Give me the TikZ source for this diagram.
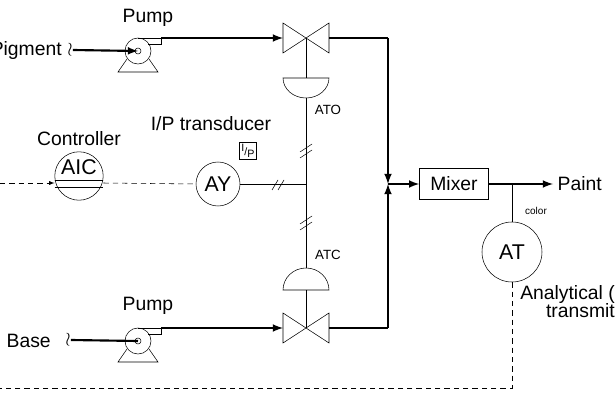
\documentclass[tikz,border=0pt]{standalone}
\usepackage{fontspec}
\setmainfont{Liberation Sans}
\usetikzlibrary{arrows}
\usetikzlibrary{calc}
\usetikzlibrary{positioning}
\tikzset{>=latex}

\begin{document}
\begin{tikzpicture}[x=0.75pt,y=-0.75pt,
  pipe/.style={line width=1.6pt},
  sig/.style={thin,dashed,dash pattern=on 4pt off 3pt},
  inst/.style={draw,circle,minimum size=44*0.75pt,inner sep=0pt,font=\fontsize{16}{18}\selectfont},
  lbl/.style={font=\fontsize{14.5}{14}\selectfont},
  small/.style={font=\fontsize{10}{10}\selectfont}]
\useasboundingbox (0,0) rectangle (615,410);

% pumps
\foreach \n/\y in {top/51, bot/341} {
  \node (pump\n) [draw,circle,minimum size=26*0.75pt,inner sep=0pt] at (138,\y) {};
  \draw (pump\n.center) circle (3);
  \draw (127,{\y+8}) -- (118,{\y+21}) -- (158,{\y+21}) -- (149,{\y+8});
  \draw (138,{\y-13}) -- (161,{\y-13}) -- (161,{\y-7}) -- (148,{\y-7});
}
\node [lbl] at (148,18) {Pump};
\node [lbl] at (148,306) {Pump};
\node [lbl,anchor=east,inner sep=0pt] at (62,51) {Pigment};
\node [lbl,anchor=east,inner sep=0pt] at (51,341) {Base};
\node (pig) [lbl,inner sep=0pt] at (70,50) {$\wr$};
\node (base) [lbl,inner sep=0pt] at (68,340) {$\wr$};
\draw [pipe,->] (pig.east) -- (pumptop.center);
\draw [pipe] (base.east) -- (pumpbot.center);

% valves
\foreach \n/\y in {top/38, bot/328} {
  \coordinate (valve\n) at (306,\y);
  \draw (283,{\y-15}) -- (329,{\y+15}) -- (329,{\y-15}) -- (283,{\y+15}) -- cycle;
}
\draw [pipe,->] (161,38) -- (283,38);
\draw [pipe,->] (161,328) -- (283,328);

% actuators
\draw (283,78) arc (180:360:23 and -20) -- cycle;
\draw (283,290) arc (180:0:23 and -22) -- cycle;
\draw (valvetop) -- (306,78);
\draw (valvebot) -- (306,290);
\node [small] at (328,110) {ATO};
\node [small] at (328,255) {ATC};

% signal from transducer
\coordinate (tee) at (306,184);
\draw (306,98) -- (306,268);
\node (AY) [inst] at (218,184) {AY};
\draw (AY.east) -- (tee);
\foreach \p in {(306,148), (306,220)}
  \draw \p ++(-6,4) -- ++(12,-8) \p ++(-6,10) -- ++(12,-8);
\draw (272,190) -- (278,180) (278,190) -- (284,180);
\node [draw,inner sep=1.5pt,font=\fontsize{8}{9}\selectfont] at (248,151) {\raisebox{0.6ex}{I}/\raisebox{-0.4ex}{P}};
\node [lbl] at (211,124) {I/P transducer};

% controller
\node (AIC) [inst] at (79,176) {\raisebox{1.6ex}{AIC}};
\draw (AIC.west |- 0,180) -- (AIC.east |- 0,180) (AIC.west |- 0,187) -- (AIC.east |- 0,187);
\node [lbl] at (79,139) {Controller};
\coordinate (leftin) at (0,183);
\draw [sig,->] (leftin) -- (AIC.west |- 0,183);
\draw [sig] (AIC.east |- 0,183) -- (AY.west);

% mixing
\coordinate (join) at (388,184);
\draw [pipe] (329,38) -- (388,38);
\draw [pipe,->] (388,38) -- (join);
\draw [pipe] (329,328) -- (388,328);
\draw [pipe,->] (388,328) -- (join);
\node (mixer) [draw,lbl,minimum width=69*0.75pt,minimum height=31*0.75pt] at (454,184) {Mixer};
\draw [pipe,->] (join) -- (mixer.west);
\node (paint) [lbl,anchor=west] at (553,184) {Paint};
\draw [pipe,->] (mixer.east) -- (paint.west);

% analyser
\node (AT) [inst,minimum size=60*0.75pt] at (512,252) {AT};
\draw (AT.north) -- (512,184);
\node [font=\fontsize{7.5}{8}\selectfont] at (536,211) {color};
\node [lbl,align=center,anchor=north west,inner sep=0pt] at (520,285) {Analytical (color)\\transmitter};
\draw [sig] (AT.south) -- (512,388) -- (0,388);
\end{tikzpicture}
\end{document}
